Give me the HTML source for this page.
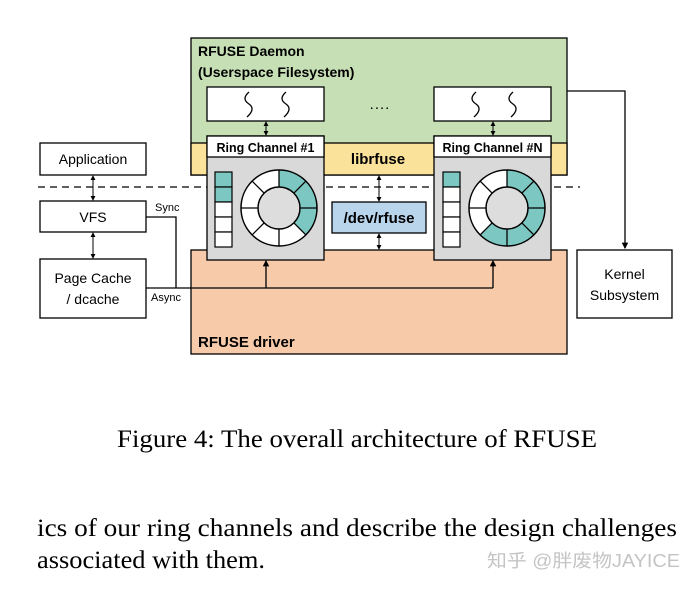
<!DOCTYPE html>
<html><head><meta charset="utf-8"><style>
html,body{margin:0;padding:0;background:#fff;}
svg{display:block;}
.s{font-family:"Liberation Sans",sans-serif;}
.b{font-family:"Liberation Sans",sans-serif;font-weight:bold;}
.t{font-family:"Liberation Serif",serif;}
</style></head><body>
<svg width="698" height="590" viewBox="0 0 698 590" xmlns="http://www.w3.org/2000/svg">
<defs>
<marker id="a" viewBox="0 0 6 6" refX="5" refY="3" markerWidth="5" markerHeight="5" orient="auto-start-reverse"><path d="M0,0 L6,3 L0,6 z" fill="#000"/></marker>
</defs>

<rect x="191" y="38" width="376" height="137" fill="#c6dfb4" stroke="#000" stroke-width="1.3"/>
<rect x="191" y="143" width="376" height="32" fill="#fbe29a" stroke="#000" stroke-width="1.3"/>
<text x="198" y="56" class="b" font-size="14">RFUSE Daemon</text>
<text x="198" y="77" class="b" font-size="14">(Userspace Filesystem)</text>
<text x="378" y="164" class="b" font-size="15" text-anchor="middle">librfuse</text>
<text x="380" y="109" class="s" font-size="15" text-anchor="middle" letter-spacing="1">....</text>

<rect x="191" y="250" width="376" height="104" fill="#f7cbaa" stroke="#000" stroke-width="1.3"/>
<text x="198" y="347" class="b" font-size="15">RFUSE driver</text>

<line x1="38" y1="187" x2="580" y2="187" stroke="#000" stroke-width="1.3" stroke-dasharray="7,5"/>

<rect x="207" y="87" width="117" height="34" fill="#fff" stroke="#000" stroke-width="1.3"/>
<rect x="434" y="87" width="117" height="34" fill="#fff" stroke="#000" stroke-width="1.3"/>
<g fill="none" stroke="#000" stroke-width="1.3">
<path d="M249,92 q-8,7 0,12 q7,5 -2,13"/><path d="M286,92 q-8,7 0,12 q7,5 -2,13"/>
<path d="M476,92 q-8,7 0,12 q7,5 -2,13"/><path d="M513,92 q-8,7 0,12 q7,5 -2,13"/>
</g>
<line x1="266" y1="122" x2="266" y2="135" stroke="#000" marker-start="url(#a)" marker-end="url(#a)"/>
<line x1="493" y1="122" x2="493" y2="135" stroke="#000" marker-start="url(#a)" marker-end="url(#a)"/>

<rect x="207" y="136" width="117" height="124" fill="#d9d9d9" stroke="#000" stroke-width="1.3"/>
<rect x="207" y="136" width="117" height="21" fill="#fff" stroke="#000" stroke-width="1.3"/>
<text x="265.5" y="152" class="b" font-size="12.5" text-anchor="middle">Ring Channel #1</text>
<g stroke="#000" stroke-width="1.2">
<rect x="215" y="172" width="17" height="15" fill="#7cc7c2"/>
<rect x="215" y="187" width="17" height="15" fill="#7cc7c2"/>
<rect x="215" y="202" width="17" height="15" fill="#fff"/>
<rect x="215" y="217" width="17" height="15" fill="#fff"/>
<rect x="215" y="232" width="17" height="15" fill="#fff"/>
</g>
<g transform="translate(279,208)">
  <circle r="29.5" fill="none" stroke="#fff" stroke-width="17"/>
  <circle r="29.5" fill="none" stroke="#7cc7c2" stroke-width="17" stroke-dasharray="69.5 200" transform="rotate(-90)"/>
  <circle r="38" fill="none" stroke="#000" stroke-width="1.5"/>
  <circle r="21" fill="#ddd" stroke="#000" stroke-width="1.5"/>
  <g stroke="#000" stroke-width="1.3">
    <line x1="0" y1="-21" x2="0" y2="-38"/><line x1="0" y1="21" x2="0" y2="38"/>
    <line x1="-21" y1="0" x2="-38" y2="0"/><line x1="21" y1="0" x2="38" y2="0"/>
    <line x1="14.8" y1="-14.8" x2="26.9" y2="-26.9"/><line x1="-14.8" y1="14.8" x2="-26.9" y2="26.9"/>
    <line x1="-14.8" y1="-14.8" x2="-26.9" y2="-26.9"/><line x1="14.8" y1="14.8" x2="26.9" y2="26.9"/>
  </g>
</g>

<rect x="434" y="136" width="117" height="124" fill="#d9d9d9" stroke="#000" stroke-width="1.3"/>
<rect x="434" y="136" width="117" height="21" fill="#fff" stroke="#000" stroke-width="1.3"/>
<text x="492.5" y="152" class="b" font-size="12.5" text-anchor="middle">Ring Channel #N</text>
<g stroke="#000" stroke-width="1.2">
<rect x="443" y="172" width="17" height="15" fill="#7cc7c2"/>
<rect x="443" y="187" width="17" height="15" fill="#fff"/>
<rect x="443" y="202" width="17" height="15" fill="#fff"/>
<rect x="443" y="217" width="17" height="15" fill="#fff"/>
<rect x="443" y="232" width="17" height="15" fill="#fff"/>
</g>
<g transform="translate(507,208)">
  <circle r="29.5" fill="none" stroke="#fff" stroke-width="17"/>
  <circle r="29.5" fill="none" stroke="#7cc7c2" stroke-width="17" stroke-dasharray="115.8 200" transform="rotate(-90)"/>
  <circle r="38" fill="none" stroke="#000" stroke-width="1.5"/>
  <circle r="21" fill="#ddd" stroke="#000" stroke-width="1.5"/>
  <g stroke="#000" stroke-width="1.3">
    <line x1="0" y1="-21" x2="0" y2="-38"/><line x1="0" y1="21" x2="0" y2="38"/>
    <line x1="-21" y1="0" x2="-38" y2="0"/><line x1="21" y1="0" x2="38" y2="0"/>
    <line x1="14.8" y1="-14.8" x2="26.9" y2="-26.9"/><line x1="-14.8" y1="14.8" x2="-26.9" y2="26.9"/>
    <line x1="-14.8" y1="-14.8" x2="-26.9" y2="-26.9"/><line x1="14.8" y1="14.8" x2="26.9" y2="26.9"/>
  </g>
</g>

<rect x="332" y="202" width="94" height="31" fill="#b9d5ec" stroke="#000" stroke-width="1.3"/>
<text x="379" y="223" class="b" font-size="15" text-anchor="middle">/dev/rfuse</text>
<line x1="379" y1="176" x2="379" y2="201" stroke="#000" marker-start="url(#a)" marker-end="url(#a)"/>
<line x1="379" y1="234" x2="379" y2="249" stroke="#000" marker-start="url(#a)" marker-end="url(#a)"/>

<rect x="40" y="143" width="106" height="32" fill="#fff" stroke="#000" stroke-width="1.3"/>
<text x="93" y="164" class="s" font-size="14" text-anchor="middle">Application</text>
<rect x="40" y="201" width="106" height="31" fill="#fff" stroke="#000" stroke-width="1.3"/>
<text x="93" y="222" class="s" font-size="14" text-anchor="middle">VFS</text>
<rect x="40" y="259" width="106" height="59" fill="#fff" stroke="#000" stroke-width="1.3"/>
<text x="93" y="283" class="s" font-size="14" text-anchor="middle">Page Cache</text>
<text x="93" y="304" class="s" font-size="14" text-anchor="middle">/ dcache</text>
<line x1="93" y1="176" x2="93" y2="200" stroke="#000" marker-start="url(#a)" marker-end="url(#a)"/>
<line x1="93" y1="233" x2="93" y2="258" stroke="#000" marker-start="url(#a)" marker-end="url(#a)"/>
<text x="155" y="211" class="s" font-size="11">Sync</text>
<text x="151" y="301" class="s" font-size="11">Async</text>
<polyline points="146,217 176,217 176,288" fill="none" stroke="#000" stroke-width="1.3"/>
<polyline points="146,288 493,288" fill="none" stroke="#000" stroke-width="1.3"/>
<line x1="266" y1="288" x2="266" y2="261" stroke="#000" stroke-width="1.3" marker-end="url(#a)"/>
<line x1="493" y1="288" x2="493" y2="261" stroke="#000" stroke-width="1.3" marker-end="url(#a)"/>

<rect x="577" y="250" width="95" height="68" fill="#fff" stroke="#000" stroke-width="1.3"/>
<text x="624.5" y="279" class="s" font-size="14" text-anchor="middle">Kernel</text>
<text x="624.5" y="300" class="s" font-size="14" text-anchor="middle">Subsystem</text>
<polyline points="567,91 625,91 625,248" fill="none" stroke="#000" stroke-width="1.3" marker-end="url(#a)"/>

<text x="117" y="447" class="t" font-size="25" textLength="480" lengthAdjust="spacingAndGlyphs">Figure 4:  The overall architecture of RFUSE</text>
<text x="37" y="536" class="t" font-size="25" textLength="640" lengthAdjust="spacingAndGlyphs">ics of our ring channels and describe the design challenges</text>
<text x="37" y="568" class="t" font-size="25" textLength="228" lengthAdjust="spacingAndGlyphs">associated with them.</text>
<text x="487" y="567" font-family="'Liberation Sans','Noto Sans CJK SC',sans-serif" font-size="18" fill="#c4c4c4" textLength="193" lengthAdjust="spacingAndGlyphs">知乎 @胖废物JAYICE</text>
</svg>
</body></html>
